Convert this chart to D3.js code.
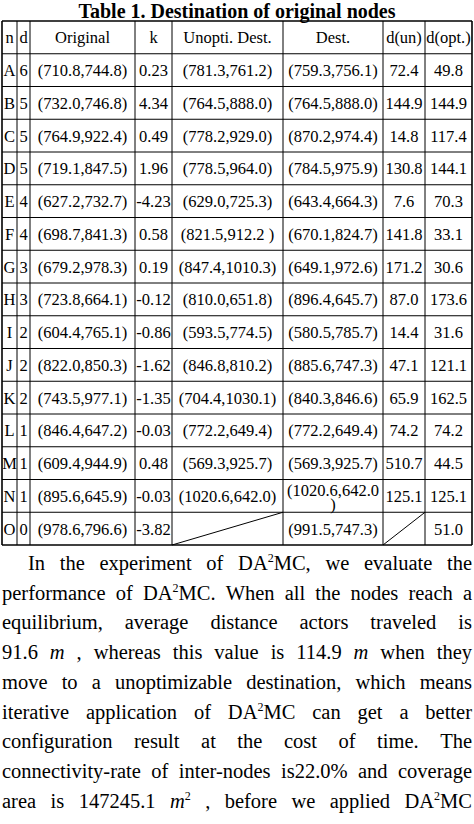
<!DOCTYPE html>
<html><head><meta charset="utf-8">
<script src="https://cdn.jsdelivr.net/npm/d3@7"></script>
<style>body{margin:0;background:#fff}svg{display:block}</style>
</head><body><svg id="c" width="474" height="824"></svg>
<script>
const title = "Table 1. Destination of original nodes";
const headers = ["n","d","Original","k","Unopti. Dest.","Dest.","d(un)","d(opt.)"];
const nodes = ["A","B","C","D","E","F","G","H","I","J","K","L","M","N","O"];
const degree = ["6","5","5","5","4","4","3","3","2","2","2","1","1","1","0"];
const original = ["(710.8,744.8)","(732.0,746.8)","(764.9,922.4)","(719.1,847.5)","(627.2,732.7)","(698.7,841.3)","(679.2,978.3)","(723.8,664.1)","(604.4,765.1)","(822.0,850.3)","(743.5,977.1)","(846.4,647.2)","(609.4,944.9)","(895.6,645.9)","(978.6,796.6)"];
const kVals = ["0.23","4.34","0.49","1.96","-4.23","0.58","0.19","-0.12","-0.86","-1.62","-1.35","-0.03","0.48","-0.03","-3.82"];
const unopti = ["(781.3,761.2)","(764.5,888.0)","(778.2,929.0)","(778.5,964.0)","(629.0,725.3)","(821.5,912.2 )","(847.4,1010.3)","(810.0,651.8)","(593.5,774.5)","(846.8,810.2)","(704.4,1030.1)","(772.2,649.4)","(569.3,925.7)","(1020.6,642.0)",null];
const dest = ["(759.3,756.1)","(764.5,888.0)","(870.2,974.4)","(784.5,975.9)","(643.4,664.3)","(670.1,824.7)","(649.1,972.6)","(896.4,645.7)","(580.5,785.7)","(885.6,747.3)","(840.3,846.6)","(772.2,649.4)","(569.3,925.7)","(1020.6,642.0\n)","(991.5,747.3)"];
const dUn = ["72.4","144.9","14.8","130.8","7.6","141.8","171.2","87.0","14.4","47.1","65.9","74.2","510.7","125.1",null];
const dOpt = ["49.8","144.9","117.4","144.1","70.3","33.1","30.6","173.6","31.6","121.1","162.5","74.2","44.5","125.1","51.0"];
const paragraph = [
 "In the experiment of DA^2MC, we evaluate the",
 "performance of DA^2MC. When all the nodes reach a",
 "equilibrium, average distance actors traveled is",
 "91.6 _m_ , whereas this value is 114.9 _m_ when they",
 "move to a unoptimizable destination, which means",
 "iterative application of DA^2MC can get a better",
 "configuration result at the cost of time. The",
 "connectivity-rate of inter-nodes is22.0% and coverage",
 "area is 147245.1 _m_^2 , before we applied DA^2MC"
];

const svg = d3.select("#c");
const serif = "'Liberation Serif','Times New Roman',serif";
svg.append("text").attr("x",237).attr("y",18).attr("text-anchor","middle")
  .attr("font-family",serif).attr("font-weight","bold").attr("font-size",20).text(title);

const colEdges = [2,17,30,135,172,283,383,425,472];
const rowsN = nodes.length;
const y = d3.scaleLinear().domain([0,rowsN+1]).range([21,545]);
const cols = [nodes,degree,original,kVals,unopti,dest,dUn,dOpt];
const g = svg.append("g").attr("font-family",serif).attr("font-size",16.5);

g.selectAll("line.v").data(colEdges).join("line")
  .attr("x1",d=>d).attr("x2",d=>d).attr("y1",y(0)).attr("y2",y(rowsN+1))
  .attr("stroke","#000").attr("stroke-width",(d,i)=>i==0||i==colEdges.length-1?1.6:1);
g.selectAll("line.h").data(d3.range(rowsN+2)).join("line")
  .attr("x1",colEdges[0]).attr("x2",colEdges[8]).attr("y1",d=>y(d)).attr("y2",d=>y(d))
  .attr("stroke","#000").attr("stroke-width",(d,i)=>i==0||i==rowsN+1?1.6:1);

function cell(ci,ri,txt){
  const cx=(colEdges[ci]+colEdges[ci+1])/2;
  const lines=txt.split("\n");
  const t=g.append("text").attr("text-anchor","middle");
  if(lines.length==1){
    t.attr("x",cx).attr("y",(y(ri)+y(ri+1))/2+6).text(txt);
  } else {
    lines.forEach((l,i)=>t.append("tspan").attr("x",cx).attr("y",y(ri)+16+i*14).text(l));
  }
}
headers.forEach((h,ci)=>cell(ci,0,h));
cols.forEach((arr,ci)=>arr.forEach((v,ri)=>{
  if(v===null){
    g.append("line").attr("x1",colEdges[ci]).attr("y1",y(ri+2)).attr("x2",colEdges[ci+1]).attr("y2",y(ri+1)).attr("stroke","#000");
  } else cell(ci,ri+1,v);
}));

const pg = svg.append("g").attr("font-family",serif).attr("font-size",20.5);
const left=2,right=472,lh=29.7,y0=570;
function addTok(parent,tok){
  const t=parent.append("text");
  let pend=0;
  tok.split(/(\^2|_m_)/).filter(s=>s).forEach(s=>{
    if(s==="^2"){ t.append("tspan").attr("font-size",12).attr("dy",-8).text("2"); pend=8; }
    else {
      const sp=t.append("tspan").text(s==="_m_"?"m":s);
      if(s==="_m_") sp.attr("font-style","italic");
      if(pend){ sp.attr("dy",pend); pend=0; }
    }
  });
  return t;
}
paragraph.forEach((line,li)=>{
  const ly=y0+li*lh;
  const start= li===0?28:left;
  const toks=line.split(" ");
  const els=toks.map(tk=>addTok(pg,tk).attr("y",ly));
  const ws=els.map(e=>e.node().getComputedTextLength());
  const gap=(right-start-d3.sum(ws))/(toks.length-1);
  let x=start;
  els.forEach((e,i)=>{e.attr("x",x);x+=ws[i]+gap;});
});
</script></body></html>
